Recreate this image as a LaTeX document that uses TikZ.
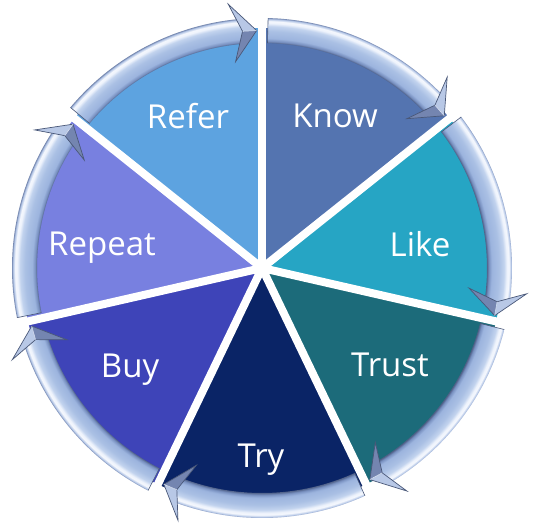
\documentclass[tikz,border=0pt]{standalone}
\usepackage{fontspec}
\setmainfont{Open Sans}
\definecolor{cKnow}{HTML}{5474B0}
\definecolor{cLike}{HTML}{26A5C4}
\definecolor{cTrust}{HTML}{1C6B7A}
\definecolor{cTry}{HTML}{0A2466}
\definecolor{cBuy}{HTML}{3E44B8}
\definecolor{cRepeat}{HTML}{7880E0}
\definecolor{cRefer}{HTML}{5DA3E0}
\definecolor{bEdge}{HTML}{4E5F86}
\definecolor{bB1}{HTML}{7890C0}
\definecolor{bB2}{HTML}{9CB4DE}
\definecolor{bB3}{HTML}{AAC0E4}
\definecolor{bB4}{HTML}{C2D3EE}
\definecolor{bB5}{HTML}{EEF3FC}
\definecolor{bB6}{HTML}{F4F7FD}
\definecolor{bB7}{HTML}{B4C6E6}
\definecolor{bB8}{HTML}{6A7DA8}
\definecolor{headlight}{HTML}{B8C8E6}
\definecolor{headdark}{HTML}{7485B0}
\definecolor{edgec}{HTML}{4A5878}
\pgfdeclareradialshading{ringshade}{\pgfpointorigin}{%
  color(0bp)=(bEdge); color(224bp)=(bEdge);
  color(226bp)=(bB1); color(229bp)=(bB2);
  color(236bp)=(bB3); color(241bp)=(bB4);
  color(244bp)=(bB5); color(246bp)=(bB6);
  color(248bp)=(bB7); color(249.5bp)=(bB8);
  color(251bp)=(bEdge); color(254bp)=(bEdge)}
\begin{document}
\begin{tikzpicture}[x=1pt,y=1pt,
  lbl/.style={text=white, font=\fontsize{33}{38}\selectfont, inner sep=0pt, anchor=base},
  gapline/.style={white, line width=8pt},
  headup/.style={fill=headlight},
  headdown/.style={fill=headdark},
  headedge/.style={draw=edgec, line width=0.7pt, line join=miter}]
\useasboundingbox (0,0) rectangle (533,-531);
\begin{scope}[shift={(262,-268)}]
  % wedges
  \foreach \s/\c in {90/cKnow, 38.5714/cLike, -12.8571/cTrust, -64.2857/cTry,
                     -115.7143/cBuy, -167.1429/cRepeat, 141.4286/cRefer}
    \fill[\c] (0,0) -- (\s:240pt) arc[start angle=\s, delta angle=-51.4286, radius=240pt] -- cycle;
  % white gaps
  \foreach \k in {0,...,6}
    \draw[gapline] (0,0) -- ({90-\k*360/7}:274pt);
  % arrows
  \foreach \s [count=\i] in {90, 38.5714, -12.8571, -64.2857, -115.7143, -167.1429, 141.4286} {
    \pgfmathsetmacro\myAO{\s-1.4}
    \pgfmathsetmacro\myAT{\s-51.4286+1.3}
    \pgfmathsetmacro\myAN{\myAT+3.4}
    \pgfmathsetmacro\myAB{\myAT+6.0}
    \begin{scope}
      \clip (\myAO:250pt) arc[start angle=\myAO, end angle=\myAN, radius=250pt]
        -- (\myAN:225pt) arc[start angle=\myAN, end angle=\myAO, radius=225pt] -- cycle;
      \node[inner sep=0pt, outer sep=0pt] (ring\i) at (0,0) {\pgfuseshading{ringshade}};
    \end{scope}
    \draw[edgec, line width=0.6pt] (\myAO:225pt) -- (\myAO:250pt);
    \fill[headup] (\myAB:266pt) -- (\myAT:237.5pt) -- (\myAN:237.5pt) -- cycle;
    \fill[headdown] (\myAN:237.5pt) -- (\myAT:237.5pt) -- (\myAB:208pt) -- cycle;
    \draw[headedge] (\myAN:237.5pt) -- (\myAB:266pt) -- (\myAT:237.5pt) -- (\myAB:208pt) -- cycle;
    \draw[white!60!headlight, line width=0.5pt] (\myAN:237.5pt) -- (\myAT:237.5pt);
  }
\end{scope}
% labels
\node[lbl] (know)   at (335,-127) {Know};
\node[lbl] (like)   at (420,-256) {Like};
\node[lbl] (trust)  at (390,-376) {Trust};
\node[lbl] (try)    at (261,-467) {Try};
\node[lbl] (buy)    at (130,-377) {Buy};
\node[lbl] (repeat) at (102,-255) {Repeat};
\node[lbl] (refer)  at (188,-128) {Refer};
\end{tikzpicture}
\end{document}
